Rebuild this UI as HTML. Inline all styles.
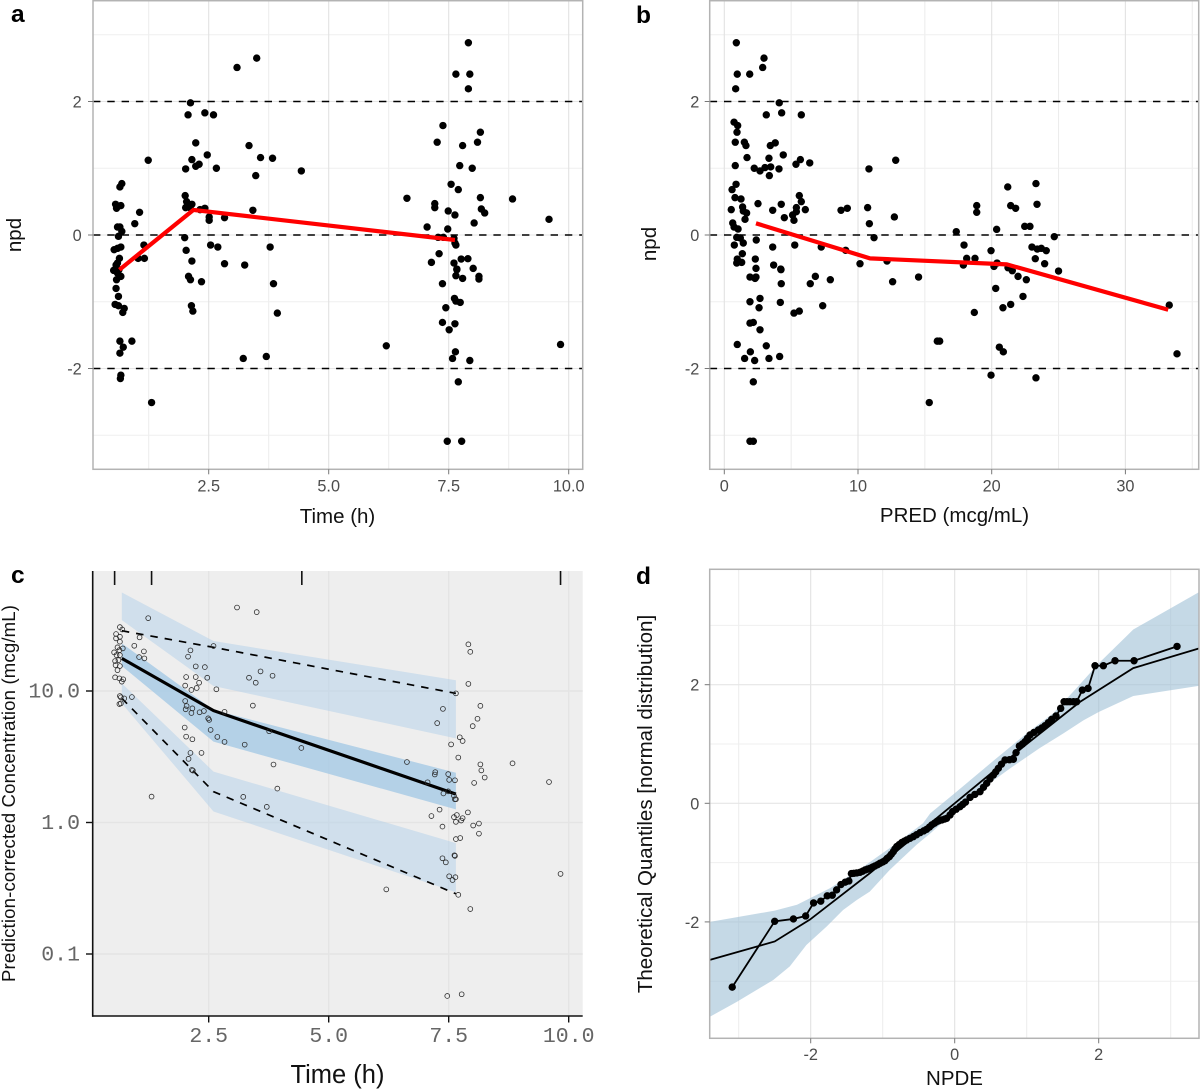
<!DOCTYPE html>
<html lang="en">
<head>
<meta charset="utf-8">
<title>Model diagnostics: npd, pcVPC and NPDE QQ plot</title>
<style>
html,body{margin:0;padding:0;background:#fff;}
svg{display:block;font-family:"Liberation Sans",sans-serif;}
.tick-label{font-size:16.3px;fill:#4d4d4d;}
.axis-title{font-size:20.5px;fill:#111;}
.panel-letter{font-size:24.5px;font-weight:bold;fill:#000;}
.mono-label{font-family:"Liberation Mono",monospace;font-size:21.5px;fill:#666;}
</style>
</head>
<body>
<svg id="figure" xmlns="http://www.w3.org/2000/svg" width="1200" height="1089" viewBox="0 0 1200 1089">
  <defs>
    <clipPath id="clip-d"><rect x="709.7" y="569.3" width="489.3" height="469"/></clipPath>
  </defs>
  <rect x="0" y="0" width="1200" height="1089" fill="#ffffff"/>
  <g id="panel-a"></g>
  <g id="panel-b"></g>
  <g id="panel-c"></g>
  <g id="panel-d"></g>

  <text class="panel-letter" x="11" y="22">a</text>
  <text class="panel-letter" x="636" y="23">b</text>
  <text class="panel-letter" x="11" y="583">c</text>
  <text class="panel-letter" x="636" y="584">d</text>

  <text class="axis-title" x="337.5" y="523" text-anchor="middle">Time (h)</text>
  <text class="axis-title" transform="translate(21,235) rotate(-90)" text-anchor="middle">npd</text>
  <text class="axis-title" x="954.5" y="522" text-anchor="middle">PRED (mcg/mL)</text>
  <text class="axis-title" transform="translate(656,244) rotate(-90)" text-anchor="middle">npd</text>
  <text x="337.5" y="1083" text-anchor="middle" font-size="25.5" fill="#111">Time (h)</text>
  <text transform="translate(15,793.5) rotate(-90)" text-anchor="middle" font-size="18.6" textLength="377" lengthAdjust="spacing" fill="#111">Prediction-corrected Concentration (mcg/mL)</text>
  <text class="axis-title" x="954.5" y="1085" text-anchor="middle">NPDE</text>
  <text transform="translate(652,804) rotate(-90)" text-anchor="middle" font-size="20.5" fill="#111">Theoretical Quantiles [normal distribution]</text>
</svg>

<script>
/* ---------- Panel a: npd vs time ---------- */
const aTime=[3.50,3.09,2.12,2.07,2.42,2.60,2.23,3.34,2.47,3.58,3.83,2.15,1.24,2.30,2.23,2.02,2.66,4.43,3.48,0.69,0.65,2.01,2.04,0.56,0.67,0.58,2.15,2.08,2.02,2.11,2.32,2.42,3.42,1.06,2.51,2.51,2.83,0.96,0.60,0.65,0.69,0.62,2.00,1.15,2.54,2.69,3.78,0.67,0.60,0.53,2.03,0.64,0.60,0.57,1.03,1.16,2.15,2.83,3.25,0.52,0.63,0.60,0.67,0.58,2.08,2.12,2.35,3.85,0.57,0.62,0.55,0.62,0.74,0.71,2.14,2.17,3.93,0.65,0.90,0.72,0.65,0.67,0.66,3.22,3.70,1.31,7.91,7.65,7.94,7.91,7.38,8.16,7.26,8.10,7.79,7.73,7.99,7.55,7.70,6.63,8.16,8.83,7.21,7.21,7.49,7.63,8.18,8.25,8.03,9.59,7.05,7.48,7.28,7.39,7.61,7.63,7.65,7.30,7.76,7.90,7.14,7.61,8.01,7.67,7.67,7.65,7.79,8.13,8.13,7.37,7.62,7.65,7.74,7.44,7.37,7.63,7.51,6.20,9.83,7.64,7.58,7.94,7.70,7.47,7.77];
const aNpd=[2.65,2.51,1.98,1.80,1.83,1.80,1.38,1.34,1.20,1.16,1.15,1.13,1.12,1.06,1.03,0.99,1.00,0.96,0.89,0.77,0.72,0.59,0.50,0.46,0.44,0.40,0.46,0.46,0.41,0.41,0.38,0.40,0.37,0.34,0.27,0.22,0.26,0.17,0.12,0.12,0.055,-0.02,-0.04,-0.15,-0.15,-0.18,-0.18,-0.18,-0.20,-0.22,-0.23,-0.35,-0.42,-0.45,-0.35,-0.35,-0.39,-0.43,-0.45,-0.53,-0.52,-0.57,-0.62,-0.67,-0.62,-0.67,-0.70,-0.73,-0.80,-0.92,-1.04,-1.06,-1.10,-1.16,-1.06,-1.14,-1.17,-1.59,-1.59,-1.68,-1.77,-2.10,-2.15,-1.85,-1.82,-2.51,2.88,2.41,2.41,2.19,1.64,1.54,1.39,1.39,1.34,1.04,1.00,0.76,0.68,0.55,0.56,0.54,0.47,0.41,0.36,0.30,0.39,0.33,0.18,0.235,0.12,0.09,-0.035,-0.035,-0.05,-0.12,-0.15,-0.28,-0.36,-0.355,-0.41,-0.42,-0.50,-0.51,-0.52,-0.61,-0.65,-0.62,-0.66,-0.73,-0.95,-0.99,-1.01,-1.09,-1.31,-1.33,-1.42,-1.66,-1.64,-1.75,-1.85,-1.88,-2.20,-3.09,-3.09];
const aTrendTime=[0.64,2.18,7.63];
const aTrendNpd=[-0.52,0.375,-0.075];
const aXMajor=[2.5,5,7.5,10];
const aXMinor=[1.25,3.75,6.25,8.75];
const aXLabels=['2.5','5.0','7.5','10.0'];

/* ---------- Panel b: npd vs population prediction ---------- */
const bPred=[0.90,2.97,2.87,0.97,1.90,0.85,4.11,3.14,4.29,5.76,0.73,1.00,0.95,0.82,1.50,1.62,3.81,3.44,1.70,4.41,3.34,5.69,5.36,6.39,12.82,0.82,2.24,2.67,3.04,3.47,4.09,3.37,10.82,0.88,0.58,0.80,1.25,5.61,5.76,2.52,4.26,1.37,5.39,0.52,3.62,6.06,8.73,9.20,10.72,1.42,1.67,5.11,5.39,4.49,1.55,5.21,12.72,10.85,0.63,0.73,1.03,0.93,1.20,2.39,11.20,1.42,0.75,5.27,3.62,7.25,9.08,1.35,2.32,0.97,0.93,1.30,3.69,10.15,12.17,2.37,4.22,4.24,1.92,2.30,2.37,6.81,6.43,7.93,4.26,12.59,14.53,2.67,1.92,4.19,2.60,7.36,5.21,5.61,1.92,2.17,2.67,0.97,3.14,1.95,1.52,2.27,3.34,4.14,2.17,1.92,2.17,21.20,23.31,18.88,18.88,21.42,21.79,23.39,20.37,22.47,22.86,17.35,24.68,17.93,23.01,23.41,23.71,24.08,19.95,18.13,18.75,23.26,17.88,20.40,20.17,23.96,21.22,21.54,25.00,21.97,22.59,20.30,22.34,21.42,20.84,33.28,18.70,15.93,16.11,20.57,20.87,33.86,19.95,23.31,15.33];
const bNpd=[2.88,2.65,2.51,2.41,2.41,2.19,1.98,1.80,1.83,1.80,1.69,1.64,1.54,1.39,1.39,1.34,1.38,1.34,1.16,1.20,1.15,1.13,1.06,1.08,1.12,1.04,1.00,0.96,1.01,1.02,0.99,0.89,0.99,0.76,0.68,0.56,0.54,0.59,0.50,0.47,0.46,0.42,0.41,0.38,0.37,0.38,0.37,0.40,0.41,0.36,0.33,0.30,0.35,0.26,0.235,0.22,0.27,0.17,0.18,0.12,0.09,-0.035,-0.045,-0.075,-0.04,-0.12,-0.15,-0.15,-0.18,-0.18,-0.23,-0.28,-0.36,-0.36,-0.42,-0.41,-0.45,-0.43,-0.39,-0.50,-0.51,-0.52,-0.63,-0.65,-0.63,-0.62,-0.73,-0.67,-0.73,-0.70,-0.63,-0.95,-1.00,-1.01,-1.09,-1.06,-1.17,-1.14,-1.32,-1.31,-1.42,-1.64,-1.66,-1.75,-1.85,-1.88,-1.85,-1.82,-2.20,-3.09,-3.09,0.72,0.77,0.44,0.34,0.44,0.40,0.46,0.085,0.13,0.13,0.05,-0.025,-0.15,-0.18,-0.21,-0.20,-0.235,-0.235,-0.35,-0.35,-0.355,-0.45,-0.42,-0.47,-0.43,-0.49,-0.535,-0.54,-0.62,-0.67,-0.80,-0.92,-1.04,-1.09,-1.05,-1.16,-1.59,-1.59,-1.68,-1.75,-1.78,-2.10,-2.14,-2.51];
const bTrendPred=[2.37,10.9,21.12,33.2];
const bTrendNpd=[0.175,-0.35,-0.44,-1.12];
const bXMajor=[0,10,20,30];
const bXMinor=[5,15,25,35];
const bXLabels=['0','10','20','30'];

/* shared npd axis */
const npdMajor=[2,0,-2];
const npdMinor=[3,1,-1,-3];
const npdLabels=['2','0','-2'];
const npdRefLines=[2,0,-2];

/* ---------- Panel c: prediction-corrected VPC (log10 of conc / 10) ---------- */
const cTime=[3.09,3.50,1.24,0.65,0.70,0.57,0.57,0.65,1.06,0.65,2.60,0.95,0.60,0.71,0.64,2.12,0.53,1.15,2.07,1.05,1.16,0.58,0.65,0.55,0.62,0.56,0.65,0.60,0.55,0.64,0.72,0.69,2.23,2.42,3.58,3.83,2.03,2.23,2.47,3.34,3.48,2.30,2.01,2.25,2.14,2.66,0.65,0.67,0.74,0.90,0.67,0.64,2.01,3.42,2.04,2.16,2.02,2.14,2.31,2.40,2.83,2.49,2.51,2.54,3.76,2.00,2.68,2.03,2.16,2.83,3.25,4.43,2.12,2.35,2.08,3.85,2.15,2.17,3.93,1.31,3.22,3.71,7.91,7.95,7.91,7.65,7.38,8.16,8.10,7.26,8.00,7.73,7.79,7.55,7.70,6.63,8.16,8.83,8.18,7.22,7.21,7.49,8.25,7.51,7.63,7.06,8.03,9.59,7.39,7.49,7.61,7.63,7.65,7.31,7.90,7.14,7.61,7.67,7.79,7.76,7.65,8.13,8.01,7.37,8.13,7.65,7.74,7.62,7.63,7.37,7.44,7.51,7.64,7.58,9.83,6.20,7.70,7.95,7.47,7.77];
const cLogConc=[0.635,0.60,0.554,0.486,0.468,0.433,0.40,0.413,0.408,0.375,0.342,0.344,0.332,0.324,0.311,0.309,0.294,0.301,0.261,0.258,0.248,0.273,0.273,0.228,0.235,0.197,0.19,0.159,0.104,0.096,0.089,0.071,0.187,0.182,0.149,0.116,0.106,0.106,0.101,0.101,0.063,0.063,0.041,0.023,0.008,0.013,-0.038,-0.048,-0.056,-0.046,-0.094,-0.099,-0.076,-0.111,-0.114,-0.132,-0.139,-0.167,-0.162,-0.152,-0.159,-0.208,-0.22,-0.296,-0.306,-0.278,-0.349,-0.347,-0.367,-0.387,-0.408,-0.433,-0.471,-0.471,-0.516,-0.559,-0.60,-0.605,-0.742,-0.803,-0.805,-0.881,0.355,0.298,0.054,-0.018,-0.136,-0.113,-0.211,-0.244,-0.267,-0.352,-0.38,-0.406,-0.506,-0.54,-0.558,-0.55,-0.604,-0.617,-0.635,-0.632,-0.658,-0.676,-0.679,-0.694,-0.699,-0.692,-0.779,-0.763,-0.797,-0.823,-0.823,-0.902,-0.923,-0.951,-0.959,-0.943,-0.967,-0.985,-0.995,-1.008,-1.023,-1.031,-1.085,-1.126,-1.118,-1.249,-1.254,-1.272,-1.303,-1.409,-1.416,-1.437,-1.391,-1.509,-1.55,-1.658,-2.319,-2.306];
const cBandTime=[0.69,2.6,7.65];
const cUpperBandHi=[0.749,0.38,0.082];
const cUpperBandLo=[0.539,0.038,-0.36];
const cMidBandHi=[0.362,-0.144,-0.622];
const cMidBandLo=[0.19,-0.385,-0.90];
const cLowerBandHi=[0.058,-0.613,-1.157];
const cLowerBandLo=[-0.094,-0.916,-1.53];
const cMedian=[0.248,-0.149,-0.784];
const cUpperPct=[0.458,0.332,-0.018];
const cLowerPct=[-0.056,-0.765,-1.542];
const cBinEdges=[0.54,1.31,4.44,9.83];
const cXMajor=[2.5,5,7.5,10];
const cXLabels=['2.5','5.0','7.5','10.0'];
const cYMajor=[0,-1,-2];
const cYLabels=['10.0','1.0','0.1'];

/* ---------- Panel d: QQ plot ---------- */
const dNpde=[-3.09,-2.50,-2.24,-2.07,-1.96,-1.86,-1.77,-1.70,-1.64,-1.58,-1.52,-1.47,-1.435,-1.40,-1.36,-1.315,-1.28,-1.245,-1.21,-1.176,-1.14,-1.106,-1.07,-1.037,-1.00,-0.968,-0.94,-0.907,-0.88,-0.852,-0.83,-0.806,-0.77,-0.736,-0.70,-0.667,-0.62,-0.574,-0.53,-0.481,-0.43,-0.389,-0.35,-0.319,-0.28,-0.25,-0.22,-0.181,-0.14,-0.111,-0.065,-0.03,0.02,0.074,0.11,0.15,0.213,0.28,0.352,0.40,0.444,0.49,0.537,0.57,0.606,0.65,0.699,0.76,0.815,0.852,0.898,0.94,0.977,1.01,1.046,1.10,1.162,1.21,1.255,1.30,1.347,1.407,1.472,1.519,1.56,1.60,1.65,1.694,1.773,1.852,1.949,2.065,2.227,2.491,3.088];
const dQuantile=[-3.10,-1.99,-1.95,-1.90,-1.68,-1.65,-1.56,-1.55,-1.46,-1.37,-1.33,-1.31,-1.185,-1.18,-1.175,-1.163,-1.145,-1.124,-1.11,-1.096,-1.075,-1.056,-1.035,-1.011,-0.99,-0.966,-0.93,-0.899,-0.86,-0.815,-0.77,-0.73,-0.695,-0.663,-0.64,-0.618,-0.59,-0.562,-0.53,-0.494,-0.465,-0.438,-0.40,-0.365,-0.335,-0.309,-0.295,-0.281,-0.265,-0.253,-0.197,-0.14,-0.10,-0.056,-0.02,0.02,0.10,0.15,0.197,0.27,0.337,0.41,0.478,0.53,0.59,0.66,0.73,0.735,0.742,0.854,0.966,1.0,1.04,1.095,1.152,1.195,1.236,1.27,1.309,1.36,1.416,1.472,1.601,1.713,1.713,1.713,1.713,1.713,1.91,1.938,2.32,2.32,2.404,2.404,2.646];
const dRefX=[-3.40,-2.50,-2.01,-1.18,0,1.0,1.74,2.0,2.48,3.39];
const dRefY=[-2.64,-2.33,-1.96,-1.18,0,1.0,1.71,1.91,2.28,2.61];
const dBandUpperX=[-3.40,-2.50,-2.19,-1.73,-1.27,-0.81,-0.44,-0.34,0,0.58,1.0,1.37,1.69,2.0,2.48,3.39];
const dBandUpperY=[-2.0,-1.81,-1.71,-1.43,-1.07,-0.675,-0.337,-0.17,0.17,0.76,1.18,1.52,1.94,2.36,2.93,3.56];
const dBandLowerX=[3.39,2.48,2.0,1.79,1.51,1.18,0.77,0.35,0,-0.34,-0.53,-0.90,-1.18,-1.36,-1.55,-1.78,-2.06,-2.29,-2.52,-3.03,-3.40];
const dBandLowerY=[1.98,1.81,1.54,1.40,1.18,0.93,0.59,0.22,-0.14,-0.51,-0.70,-1.12,-1.49,-1.63,-1.80,-2.08,-2.39,-2.75,-2.98,-3.35,-3.60];
const dXMajor=[-2,0,2];
const dXMinor=[-3,-1,1,3];
const dXLabels=['-2','0','2'];
const dYMajor=[2,0,-2];
const dYMinor=[3,1,-1,-3];
const dYLabels=['2','0','-2'];

/* ---------- Axis functions ---------- */
const xA=v=>88.7+48*v;
const xB=v=>724.3+13.37*v;
const yNpd=v=>235-66.75*v;
const xC=v=>88.7+48*v;
const yC=v=>691-131.5*v;
const xD=v=>954.7+72*v;
const yD=v=>803.3-59.3*v;

const NS='http://www.w3.org/2000/svg';
function mk(tag,attrs,parent){
  const n=document.createElementNS(NS,tag);
  for(const k in attrs){n.setAttribute(k,attrs[k]);}
  parent.appendChild(n);
  return n;
}
function hLine(parent,x1,x2,y,stroke,w,name){
  const el=mk('line',{x1:x1,x2:x2,y1:y,y2:y,stroke:stroke,'stroke-width':w},parent);
  
  
  return el;
}
function vLine(parent,x,y1,y2,stroke,w,name){
  const el=mk('line',{x1:x,x2:x,y1:y1,y2:y2,stroke:stroke,'stroke-width':w},parent);
  
  
  return el;
}
function label(parent,x,y,txt,anchor,cls,name){
  const el=mk('text',{x:x,y:y,'text-anchor':anchor,'class':cls},parent);
  el.textContent=txt;
  
  
  return el;
}
function dots(parent,xs,ys,sx,sy,r,name){
  for(let i=0;i<xs.length;i++){
    const el=mk('circle',{cx:sx(xs[i]),cy:sy(ys[i]),r:r,fill:'#000'},parent);
    
    
  }
}
function poly(parent,xs,ys,sx,sy,stroke,w,dash,name){
  const pts=xs.map((v,i)=>sx(v)+','+sy(ys[i])).join(' ');
  const el=mk('polyline',{points:pts,fill:'none',stroke:stroke,'stroke-width':w,'stroke-linejoin':'miter'},parent);
  if(dash){el.setAttribute('stroke-dasharray',dash);}
  
  
  return el;
}
function frame(parent,L,T,R,B,sx,sy,xMajor,xMinor,xLabels,yMajor,yMinor,yLabels,xLabY,yLabX){
  xMinor.forEach(v=>vLine(parent,sx(v),T,B,'#ececec',1,'x-minor-gridline'));
  yMinor.forEach(v=>hLine(parent,L,R,sy(v),'#efefef',1,'y-minor-gridline'));
  xMajor.forEach(v=>vLine(parent,sx(v),T,B,'#e2e2e2',1.1,'x-major-gridline'));
  yMajor.forEach(v=>hLine(parent,L,R,sy(v),'#e6e6e6',1.1,'y-major-gridline'));
}
function frameTop(parent,L,T,R,B,sx,sy,xMajor,xLabels,yMajor,yLabels,xLabY,yLabX){
  const box=mk('rect',{x:L,y:T,width:R-L,height:B-T,fill:'none',stroke:'#b3b3b3','stroke-width':1.5},parent);
  
  
  xMajor.forEach((v,i)=>{
    vLine(parent,sx(v),B,B+5,'#777',1,'x-axis-tick');
    label(parent,sx(v),xLabY,xLabels[i],'middle','tick-label','x-tick-label');
  });
  yMajor.forEach((v,i)=>{
    hLine(parent,L-5,L,sy(v),'#777',1,'y-axis-tick');
    label(parent,yLabX,sy(v)+6,yLabels[i],'end','tick-label','y-tick-label');
  });
}
function band(parent,xs,hi,lo,sx,sy,fill,op,name){
  const up=xs.map((v,i)=>sx(v)+','+sy(hi[i]));
  const dn=xs.map((v,i)=>sx(v)+','+sy(lo[i])).reverse();
  const el=mk('polygon',{points:up.concat(dn).join(' '),fill:fill,'fill-opacity':op},parent);
  
  
  return el;
}

/* ---------- Draw panel a ---------- */
const gA=document.getElementById('panel-a');
frame(gA,93,0.7,582.7,469.3,xA,yNpd,aXMajor,aXMinor,aXLabels,npdMajor,npdMinor,npdLabels);
npdRefLines.forEach(v=>hLine(gA,93,582.7,yNpd(v),'#000',1.6,'npd-reference-line').setAttribute('stroke-dasharray','7.4 6.9'));
dots(gA,aTime,aNpd,xA,yNpd,3.7,'npd-point');
poly(gA,aTrendTime,aTrendNpd,xA,yNpd,'#ff0000',4.2,null,'loess-trend-line');
frameTop(gA,93,0.7,582.7,469.3,xA,yNpd,aXMajor,aXLabels,npdMajor,npdLabels,491.7,81.7);

/* ---------- Draw panel b ---------- */
const gB=document.getElementById('panel-b');
frame(gB,709.7,0.7,1198.7,469.3,xB,yNpd,bXMajor,bXMinor,bXLabels,npdMajor,npdMinor,npdLabels);
npdRefLines.forEach(v=>hLine(gB,709.7,1198.7,yNpd(v),'#000',1.6,'npd-reference-line').setAttribute('stroke-dasharray','7.4 6.9'));
dots(gB,bPred,bNpd,xB,yNpd,3.7,'npd-point');
poly(gB,bTrendPred,bTrendNpd,xB,yNpd,'#ff0000',4.2,null,'loess-trend-line');
frameTop(gB,709.7,0.7,1198.7,469.3,xB,yNpd,bXMajor,bXLabels,npdMajor,npdLabels,491.7,699.3);

/* ---------- Draw panel c ---------- */
const gC=document.getElementById('panel-c');
const cBg=mk('rect',{x:93,y:571,width:489.7,height:445,fill:'#eeeeee'},gC);


cXMajor.forEach(v=>vLine(gC,xC(v),571,1016,'#e4e4e4',1.4,'x-major-gridline'));
cYMajor.forEach(v=>hLine(gC,93,582.7,yC(v),'#e4e4e4',1.4,'y-major-gridline'));
band(gC,cBandTime,cUpperBandHi,cUpperBandLo,xC,yC,'#b2d0ea',0.5,'upper-percentile-ci-band');
band(gC,cBandTime,cLowerBandHi,cLowerBandLo,xC,yC,'#b2d0ea',0.5,'lower-percentile-ci-band');
band(gC,cBandTime,cMidBandHi,cMidBandLo,xC,yC,'#a9cbe5',0.85,'median-ci-band');
poly(gC,cBandTime,cUpperPct,xC,yC,'#000',1.7,'7.5 7','upper-percentile-line');
poly(gC,cBandTime,cLowerPct,xC,yC,'#000',1.7,'7.5 7','lower-percentile-line');
poly(gC,cBandTime,cMedian,xC,yC,'#000',3.2,null,'median-line');
for(let i=0;i<cTime.length;i++){
  const c=mk('circle',{cx:xC(cTime[i]),cy:yC(cLogConc[i]),r:2.4,fill:'none',stroke:'#2b2b2b','stroke-width':0.8},gC);
  
  
}
cBinEdges.forEach(v=>vLine(gC,xC(v),571,585,'#111',1.6,'bin-edge-tick'));
vLine(gC,92.7,571,1016.8,'#111',1.6,'y-axis-line');
hLine(gC,92,582.7,1016,'#111',1.6,'x-axis-line');
cXMajor.forEach((v,i)=>{
  vLine(gC,xC(v),1016,1022.5,'#111',1.4,'x-axis-tick');
  label(gC,xC(v),1042,cXLabels[i],'middle','mono-label','x-tick-label');
});
cYMajor.forEach((v,i)=>{
  hLine(gC,86,92.7,yC(v),'#111',1.4,'y-axis-tick');
  label(gC,80,yC(v)+6.5,cYLabels[i],'end','mono-label','y-tick-label');
});

/* ---------- Draw panel d ---------- */
const gD=document.getElementById('panel-d');
frame(gD,709.7,569.3,1199,1038.3,xD,yD,dXMajor,dXMinor,dXLabels,dYMajor,dYMinor,dYLabels);
const gDClip=mk('g',{'clip-path':'url(#clip-d)'},gD);


const bandPts=dBandUpperX.map((v,i)=>xD(v)+','+yD(dBandUpperY[i])).concat(dBandLowerX.map((v,i)=>xD(v)+','+yD(dBandLowerY[i]))).join(' ');
const dBand=mk('polygon',{points:bandPts,fill:'#9ec0d5','fill-opacity':0.6},gDClip);


poly(gDClip,dRefX,dRefY,xD,yD,'#000',1.8,null,'theoretical-reference-line');
poly(gDClip,dNpde,dQuantile,xD,yD,'#000',1.8,null,'qq-connecting-line');
dots(gDClip,dNpde,dQuantile,xD,yD,3.7,'qq-point');
frameTop(gD,709.7,569.3,1199,1038.3,xD,yD,dXMajor,dXLabels,dYMajor,dYLabels,1060,699.3);
</script>
</body>
</html>
